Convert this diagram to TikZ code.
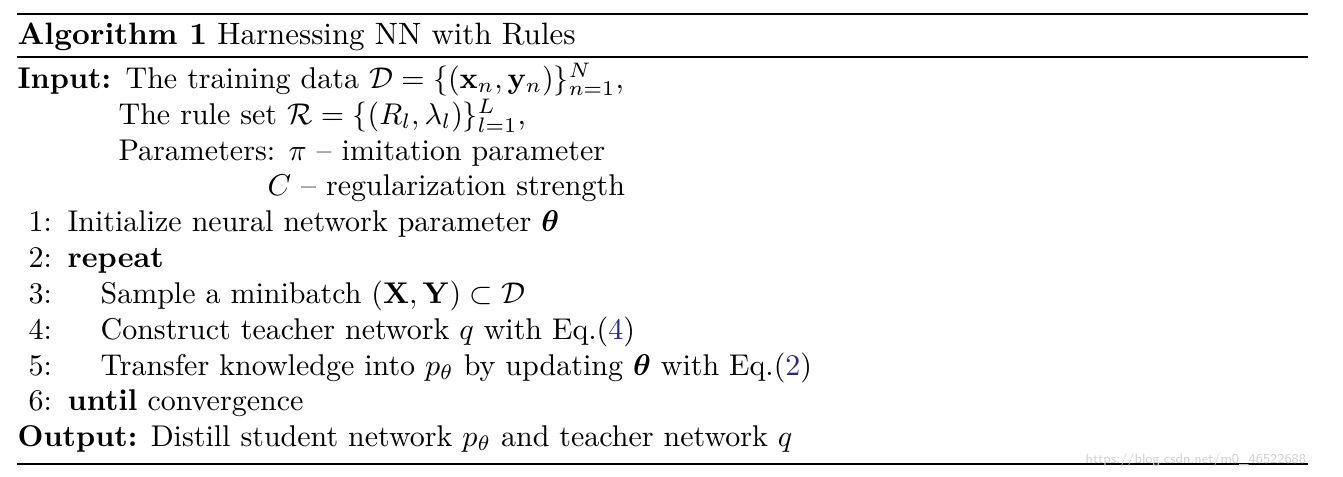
\documentclass[tikz,border=0pt]{standalone}
\usepackage{amsmath,bm}
\definecolor{refblue}{RGB}{40,40,140}
\begin{document}
\begin{tikzpicture}[x=0.3333pt,y=-0.3333pt,
  txt/.style={anchor=base west,inner sep=0pt,font=\normalsize}]
\useasboundingbox (0,0) rectangle (1343,477);
\draw[line width=0.8pt] (17,14) -- (1308,14);
\draw[line width=0.4pt] (17,57) -- (1308,57);
\draw[line width=0.4pt] (17,464) -- (1308,464);
\node[txt,scale=1.03] (t) at (17,44) {\textbf{Algorithm 1} Harnessing NN with Rules};
\node[txt] (in) at (17,88) {\textbf{Input:}};
\node[txt] (i1) at (125,88) {The training data $\mathcal{D}=\{(\mathbf{x}_n,\mathbf{y}_n)\}_{n=1}^{N}$,};
\node[txt] (i2) at (118,124) {The rule set $\mathcal{R}=\{(R_l,\lambda_l)\}_{l=1}^{L}$,};
\node[txt] (i3) at (118,160) {Parameters: $\pi$ -- imitation parameter};
\node[txt] (i4) at (267,195) {$C$ -- regularization strength};
\node[txt] (n1) at (28,231) {1:};
\node[txt] (s1) at (67,231) {Initialize neural network parameter $\bm{\theta}$};
\node[txt] (n2) at (28,267) {2:};
\node[txt] (s2) at (67,267) {\textbf{repeat}};
\node[txt] (n3) at (28,303) {3:};
\node[txt] (s3) at (100,303) {Sample a minibatch $(\mathbf{X},\mathbf{Y})\subset\mathcal{D}$};
\node[txt] (n4) at (28,339) {4:};
\node[txt] (s4) at (100,339) {Construct teacher network $q$ with Eq.(\textcolor{refblue}{4})};
\node[txt] (n5) at (28,375) {5:};
\node[txt] (s5) at (100,375) {Transfer knowledge into $p_\theta$ by updating $\bm{\theta}$ with Eq.(\textcolor{refblue}{2})};
\node[txt] (n6) at (28,410) {6:};
\node[txt] (s6) at (67,410) {\textbf{until} convergence};
\node[txt] (out) at (17,446) {\textbf{Output:} Distill student network $p_\theta$ and teacher network $q$};
\node[txt,font=\sffamily\fontsize{4.5}{5}\selectfont,text=black!18] (wm) at (1085,463) {https://blog.csdn.net/m0\_46522688};
\end{tikzpicture}
\end{document}
